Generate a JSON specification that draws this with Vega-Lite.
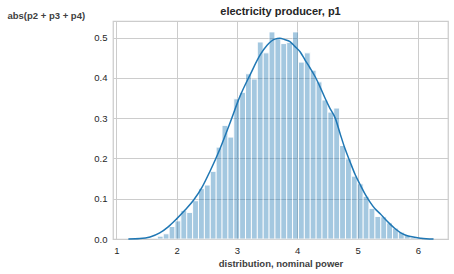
{
  "$schema": "https://vega.github.io/schema/vega-lite/v6.json",
  "width": 335,
  "height": 218,
  "autosize": "none",
  "padding": {"left": 113, "top": 21, "right": 6, "bottom": 35},
  "background": "white",
  "config": {
    "font": "Liberation Sans",
    "view": {"stroke": "#cccccc", "strokeWidth": 1.25},
    "axis": {
      "grid": true,
      "gridColor": "#cccccc",
      "gridWidth": 1,
      "domain": false,
      "ticks": false,
      "labelFont": "Liberation Sans",
      "labelFontSize": 9.5,
      "labelColor": "#262626",
      "titleFont": "Liberation Sans",
      "titleFontSize": 9.5,
      "titleFontWeight": "bold",
      "titleColor": "#404040"
    }
  },
  "title": {
    "text": "electricity producer, p1",
    "fontSize": 11,
    "fontWeight": "bold",
    "color": "#262626",
    "font": "Liberation Sans",
    "anchor": "middle",
    "offset": -7
  },
  "datasets": {
    "hist": [
      {"bin_start": 1.680, "bin_end": 1.7775, "density": 0.007},
      {"bin_start": 1.7775, "bin_end": 1.875, "density": 0.013},
      {"bin_start": 1.875, "bin_end": 1.9725, "density": 0.031},
      {"bin_start": 1.9725, "bin_end": 2.070, "density": 0.045},
      {"bin_start": 2.070, "bin_end": 2.1675, "density": 0.071},
      {"bin_start": 2.1675, "bin_end": 2.265, "density": 0.066},
      {"bin_start": 2.265, "bin_end": 2.3625, "density": 0.095},
      {"bin_start": 2.3625, "bin_end": 2.460, "density": 0.125},
      {"bin_start": 2.460, "bin_end": 2.5575, "density": 0.134},
      {"bin_start": 2.5575, "bin_end": 2.655, "density": 0.168},
      {"bin_start": 2.655, "bin_end": 2.7525, "density": 0.228},
      {"bin_start": 2.7525, "bin_end": 2.850, "density": 0.282},
      {"bin_start": 2.850, "bin_end": 2.9475, "density": 0.253},
      {"bin_start": 2.9475, "bin_end": 3.045, "density": 0.348},
      {"bin_start": 3.045, "bin_end": 3.1425, "density": 0.364},
      {"bin_start": 3.1425, "bin_end": 3.240, "density": 0.410},
      {"bin_start": 3.240, "bin_end": 3.3375, "density": 0.397},
      {"bin_start": 3.3375, "bin_end": 3.435, "density": 0.489},
      {"bin_start": 3.435, "bin_end": 3.5325, "density": 0.462},
      {"bin_start": 3.5325, "bin_end": 3.630, "density": 0.514},
      {"bin_start": 3.630, "bin_end": 3.7275, "density": 0.497},
      {"bin_start": 3.7275, "bin_end": 3.825, "density": 0.485},
      {"bin_start": 3.825, "bin_end": 3.9225, "density": 0.488},
      {"bin_start": 3.9225, "bin_end": 4.020, "density": 0.514},
      {"bin_start": 4.020, "bin_end": 4.1175, "density": 0.439},
      {"bin_start": 4.1175, "bin_end": 4.215, "density": 0.462},
      {"bin_start": 4.215, "bin_end": 4.3125, "density": 0.419},
      {"bin_start": 4.3125, "bin_end": 4.410, "density": 0.390},
      {"bin_start": 4.410, "bin_end": 4.5075, "density": 0.345},
      {"bin_start": 4.5075, "bin_end": 4.605, "density": 0.315},
      {"bin_start": 4.605, "bin_end": 4.7025, "density": 0.325},
      {"bin_start": 4.7025, "bin_end": 4.800, "density": 0.232},
      {"bin_start": 4.800, "bin_end": 4.8975, "density": 0.199},
      {"bin_start": 4.8975, "bin_end": 4.995, "density": 0.156},
      {"bin_start": 4.995, "bin_end": 5.0925, "density": 0.137},
      {"bin_start": 5.0925, "bin_end": 5.190, "density": 0.106},
      {"bin_start": 5.190, "bin_end": 5.2875, "density": 0.076},
      {"bin_start": 5.2875, "bin_end": 5.385, "density": 0.056},
      {"bin_start": 5.385, "bin_end": 5.4825, "density": 0.055},
      {"bin_start": 5.4825, "bin_end": 5.580, "density": 0.040},
      {"bin_start": 5.580, "bin_end": 5.6775, "density": 0.027},
      {"bin_start": 5.6775, "bin_end": 5.775, "density": 0.017},
      {"bin_start": 5.775, "bin_end": 5.8725, "density": 0.009},
      {"bin_start": 5.8725, "bin_end": 5.970, "density": 0.004},
      {"bin_start": 5.970, "bin_end": 6.0675, "density": 0.002}
    ],
    "kde": [
      {"x": 1.20, "y": 0.000},
      {"x": 1.39, "y": 0.001},
      {"x": 1.56, "y": 0.005},
      {"x": 1.72, "y": 0.015},
      {"x": 1.86, "y": 0.030},
      {"x": 2.00, "y": 0.050},
      {"x": 2.14, "y": 0.072},
      {"x": 2.28, "y": 0.096},
      {"x": 2.42, "y": 0.128},
      {"x": 2.55, "y": 0.167},
      {"x": 2.72, "y": 0.224},
      {"x": 2.88, "y": 0.286},
      {"x": 3.05, "y": 0.354},
      {"x": 3.22, "y": 0.408},
      {"x": 3.39, "y": 0.458},
      {"x": 3.50, "y": 0.481},
      {"x": 3.63, "y": 0.496},
      {"x": 3.71, "y": 0.498},
      {"x": 3.79, "y": 0.495},
      {"x": 3.88, "y": 0.490},
      {"x": 3.96, "y": 0.478},
      {"x": 4.05, "y": 0.464},
      {"x": 4.13, "y": 0.444},
      {"x": 4.21, "y": 0.425},
      {"x": 4.30, "y": 0.402},
      {"x": 4.38, "y": 0.377},
      {"x": 4.46, "y": 0.350},
      {"x": 4.54, "y": 0.325},
      {"x": 4.63, "y": 0.300},
      {"x": 4.71, "y": 0.262},
      {"x": 4.79, "y": 0.225},
      {"x": 4.88, "y": 0.190},
      {"x": 4.96, "y": 0.160},
      {"x": 5.05, "y": 0.133},
      {"x": 5.13, "y": 0.110},
      {"x": 5.21, "y": 0.091},
      {"x": 5.29, "y": 0.075},
      {"x": 5.38, "y": 0.062},
      {"x": 5.46, "y": 0.049},
      {"x": 5.54, "y": 0.037},
      {"x": 5.62, "y": 0.026},
      {"x": 5.71, "y": 0.016},
      {"x": 5.79, "y": 0.010},
      {"x": 5.88, "y": 0.006},
      {"x": 6.05, "y": 0.002},
      {"x": 6.26, "y": 0.000}
    ]
  },
  "layer": [
    {
      "data": {"name": "hist"},
      "mark": {"type": "rect", "color": "#1f77b4", "opacity": 0.4, "stroke": "white", "strokeWidth": 1},
      "encoding": {
        "x": {
          "field": "bin_start",
          "type": "quantitative",
          "scale": {"domain": [0.945, 6.5], "nice": false, "zero": false},
          "axis": {"values": [1, 2, 3, 4, 5, 6], "format": "d", "labelPadding": 6, "title": "distribution, nominal power", "titlePadding": 4}
        },
        "x2": {"field": "bin_end"},
        "y": {
          "field": "density",
          "type": "quantitative",
          "scale": {"domain": [0, 0.541], "nice": false},
          "axis": {
            "values": [0, 0.1, 0.2, 0.3, 0.4, 0.5],
            "format": ".1f",
            "labelPadding": 6,
            "title": "abs(p2 + p3 + p4)",
            "titleAngle": 0,
            "titleAlign": "left",
            "titleBaseline": "middle",
            "titleX": -106,
            "titleY": -6
          }
        },
        "y2": {"datum": 0}
      }
    },
    {
      "data": {"name": "kde"},
      "mark": {"type": "line", "color": "#1f77b4", "strokeWidth": 1.5, "interpolate": "monotone"},
      "encoding": {
        "x": {"field": "x", "type": "quantitative"},
        "y": {"field": "y", "type": "quantitative"}
      }
    }
  ]
}
